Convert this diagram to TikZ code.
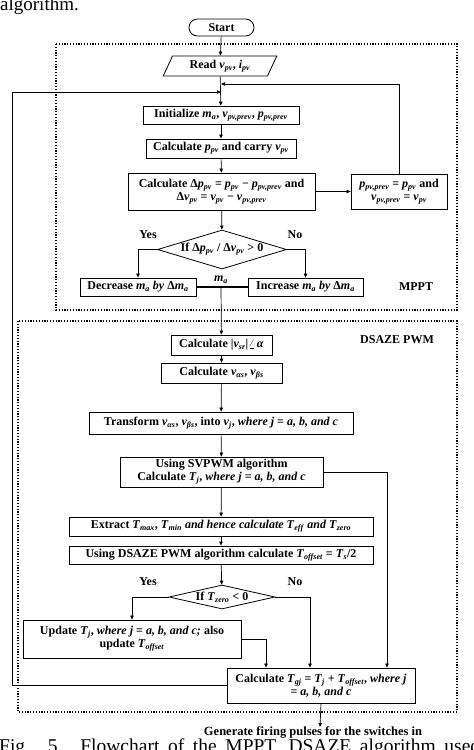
\documentclass[tikz,border=0pt]{standalone}
\usepackage{fontspec}
\setmainfont{Liberation Serif}
\usetikzlibrary{arrows.meta,shapes.geometric,calc}
\newcommand\mv[2]{\textit{#1}\textsubscript{\textit{#2}}}
\newcommand\dfont{\fontsize{12}{13}\selectfont\bfseries}
\begin{document}
\begin{tikzpicture}[x=1pt,y=-1pt,
  >={Triangle[length=4pt,width=3.4pt]},
  box/.style={draw,line width=0.8pt,inner sep=1pt,align=center,font=\dfont},
  lbl/.style={inner sep=0pt,font=\dfont},
  ln/.style={line width=0.7pt},
  dotbox/.style={line width=1.2pt,dash pattern=on 1.2pt off 1.6pt}]
\useasboundingbox (0,0) rectangle (474,750);
\clip (0,0) rectangle (474,750);
% surrounding page text
\node[anchor=base west,inner sep=0pt,font=\fontsize{19}{21}\selectfont] (tt) at (0,10.5) {algorithm.};
\node[anchor=base west,inner sep=0pt,font=\fontsize{19.5}{21}\selectfont] (cap) at (-1,752) {\makebox[481pt][s]{Fig. 5. Flowchart of the MPPT, DSAZE algorithm used}};
% group frames
\draw[dotbox] (56,44) rectangle (457,310);
\draw[dotbox] (18,321) rectangle (457,712);
\node[lbl] (mppt) at (416,287) {MPPT};
\node[lbl] (dpwm) at (397,340) {DSAZE PWM};
% MPPT nodes
\node[box,rounded corners=8.5pt,minimum width=65,minimum height=17] (start) at (221.5,27.5) {Start};
\node[box,trapezium,trapezium left angle=66,trapezium right angle=114,trapezium stretches=true,minimum width=114,minimum height=20] (read) at (220,66) {Read \mv{v}{pv}, \mv{i}{pv}};
\node[box,minimum width=156,minimum height=18] (init) at (221,115) {Initialize \mv{m}{a}, \mv{v}{pv,prev}, \mv{p}{pv,prev}};
\node[box,minimum width=150,minimum height=19] (calcp) at (221,148.5) {Calculate \mv{p}{pv} and carry \mv{v}{pv}};
\node[box,minimum width=187,minimum height=37] (delta) at (221.5,191.5) {Calculate Δ\mv{p}{pv} = \mv{p}{pv} − \mv{p}{pv,prev} and\\ Δ\mv{v}{pv} = \mv{v}{pv} − \mv{v}{pv,prev}};
\node[box,minimum width=96,minimum height=35] (prev) at (399,191.5) {\mv{p}{pv,prev} = \mv{p}{pv} and\\ \mv{v}{pv,prev} = \mv{v}{pv}};
\node[box,diamond,aspect=3.3,inner sep=0pt,minimum width=129,minimum height=39] (dia1) at (222,249.5) {If Δ\mv{p}{pv} / Δ\mv{v}{pv} > 0};
\node[lbl] (yes1) at (148,235) {Yes};
\node[lbl] (no1) at (295,235) {No};
\node[box,minimum width=116,minimum height=18] (dec) at (138,287) {Decrease \mv{m}{a} \textit{by} Δ\mv{m}{a}};
\node[box,minimum width=115,minimum height=18] (inc) at (305.5,287) {Increase \mv{m}{a} \textit{by} Δ\mv{m}{a}};
\node[lbl] (malbl) at (221,279.5) {\mv{m}{a}};
\coordinate (ma) at (221,287);
\coordinate (j1) at (221,92);
\coordinate (j2) at (221,84);
% PWM nodes
\node[box,minimum width=101,minimum height=20] (calcv) at (221.5,345) {Calculate |\mv{v}{sr}|$\angle$\,\textit{α}};
\node[box,minimum width=121,minimum height=20] (calcab) at (221.5,373) {Calculate \mv{v}{αs}, \mv{v}{βs}};
\node[box,minimum width=264,minimum height=22] (trans) at (221,423) {Transform \mv{v}{αs}, \mv{v}{βs}, into \mv{v}{j}, \textit{where j} = \textit{a, b, and c}};
\node[box,minimum width=203,minimum height=30] (svp) at (221.5,472) {Using SVPWM algorithm\\ Calculate \mv{T}{j}, \textit{where j} = \textit{a, b, and c}};
\node[box,minimum width=304,minimum height=19] (extr) at (221,526.5) {Extract \mv{T}{max}, \mv{T}{min} \textit{and hence calculate} \mv{T}{eff} \textit{and} \mv{T}{zero}};
\node[box,minimum width=304,minimum height=18] (dsz) at (221,555) {Using DSAZE PWM algorithm calculate \mv{T}{offset} = \mv{T}{s}/2};
\node[box,diamond,aspect=4.2,inner sep=0pt,minimum width=106,minimum height=24] (dia2) at (222,597) {If \mv{T}{zero} < 0};
\node[lbl] (yes2) at (148,582) {Yes};
\node[lbl] (no2) at (295,582) {No};
\node[box,minimum width=218,minimum height=38] (updt) at (132,639) {Update \mv{T}{j}, \textit{where j} = \textit{a, b, and c;} also\\ update \mv{T}{offset}};
\node[box,minimum width=188,minimum height=35] (calct) at (321,685.5) {Calculate \mv{T}{gj} = \mv{T}{j} + \mv{T}{offset}, \textit{where j}\\ = \textit{a, b, and c}};
\node[lbl,font=\fontsize{12.5}{13}\selectfont\bfseries] (gen) at (313,732) {Generate firing pulses for the switches in};
\coordinate (outend) at (320,727);
% connectors
\draw[ln,->] (start) -- (read);
\draw[ln,->] (read) -- (init);
\draw[ln,->] (init) -- (calcp);
\draw[ln,->] (calcp) -- (delta);
\draw[ln,->] (delta) -- (prev);
\draw[ln,->] (prev.north) |- (j2);
\draw[ln,->] (calct.west) -| (12,92) -- (j1);
\draw[ln,->] (delta) -- (dia1);
\draw[ln,->] (dia1.west) -| (dec.north);
\draw[ln,->] (dia1.east) -| (inc.north);
\draw[line width=1.3pt] (dec.east) -- (inc.west);
\draw[ln,->] (ma) -- (calcv);
\draw[ln,->] (calcv) -- (calcab);
\draw[ln,->] (calcab) -- (trans);
\draw[ln,->] (trans) -- (svp);
\draw[ln,->] (svp) -- (extr);
\draw[ln,->] (extr) -- (dsz);
\draw[ln,->] (dsz) -- (dia2);
\draw[ln,->] (dia2.west) -| (updt.north);
\draw[ln,->] (dia2.east) -| (calct.north -| 310,0);
\draw[ln,->] (updt.east) -| (calct.north -| 266,0);
\draw[ln,->] (svp.east) -| (calct.north -| 387,0);
\draw[ln,->] (calct.south) -- (outend);
\end{tikzpicture}
\end{document}
